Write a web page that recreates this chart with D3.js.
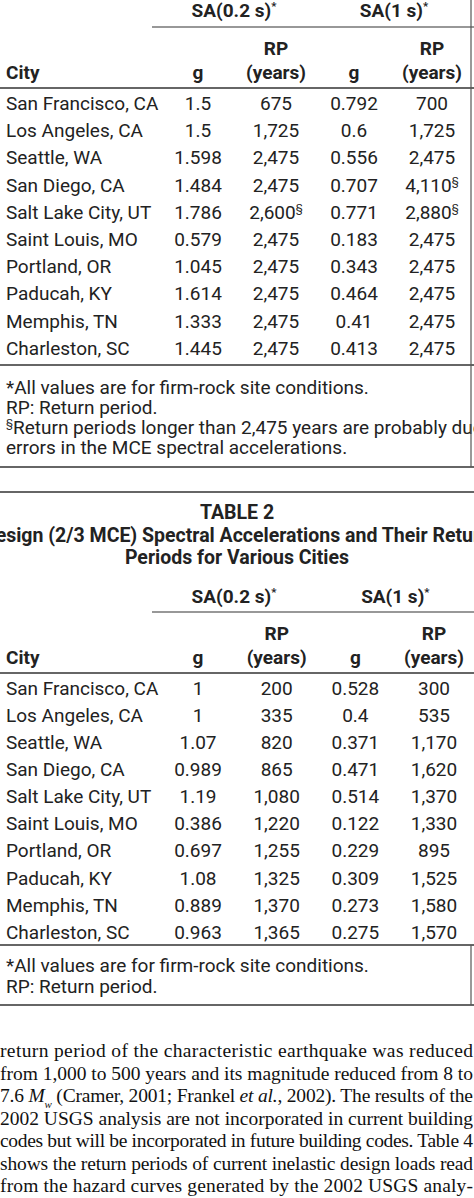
<!DOCTYPE html>
<html><head><meta charset="utf-8">
<script src="https://cdn.jsdelivr.net/npm/d3@7"></script>
<style>body{margin:0;background:#fff}svg{display:block}</style>
</head><body><script>
const cities = ["San Francisco, CA","Los Angeles, CA","Seattle, WA","San Diego, CA","Salt Lake City, UT","Saint Louis, MO","Portland, OR","Paducah, KY","Memphis, TN","Charleston, SC"];
const t1SA02g = ["1.5","1.5","1.598","1.484","1.786","0.579","1.045","1.614","1.333","1.445"];
const t1SA02rp = ["675","1,725","2,475","2,475","2,600§","2,475","2,475","2,475","2,475","2,475"];
const t1SA1g = ["0.792","0.6","0.556","0.707","0.771","0.183","0.343","0.464","0.41","0.413"];
const t1SA1rp = ["700","1,725","2,475","4,110§","2,880§","2,475","2,475","2,475","2,475","2,475"];
const t2SA02g = ["1","1","1.07","0.989","1.19","0.386","0.697","1.08","0.889","0.963"];
const t2SA02rp = ["200","335","820","865","1,080","1,220","1,255","1,325","1,370","1,365"];
const t2SA1g = ["0.528","0.4","0.371","0.471","0.514","0.122","0.229","0.309","0.273","0.275"];
const t2SA1rp = ["300","535","1,170","1,620","1,370","1,330","895","1,525","1,580","1,570"];
const columns = ["g02","rp02","g1","rp1"];
const t1Notes = ["*All values are for firm-rock site conditions.","RP: Return period.","§Return periods longer than 2,475 years are probably due to","errors in the MCE spectral accelerations."];
const t2Notes = ["*All values are for firm-rock site conditions.","RP: Return period."];
const t2Title = ["TABLE 2","Design (2/3 MCE) Spectral Accelerations and Their Return","Periods for Various Cities"];
const paragraph = ["return period of the characteristic earthquake was reduced","from 1,000 to 500 years and its magnitude reduced from 8 to","7.6 M_w (Cramer, 2001; Frankel et al., 2002). The results of the","2002 USGS analysis are not incorporated in current building","codes but will be incorporated in future building codes. Table 4","shows the return periods of current inelastic design loads read","from the hazard curves generated by the 2002 USGS analy-"];

const W=474,H=1198;
const svg=d3.select("body").append("svg").attr("width",W).attr("height",H);
const FN="Roboto,'Liberation Sans',sans-serif";
const ink="#222";
const x=d3.scalePoint().domain(columns).range([198,432]);
const x2=d3.scalePoint().domain(columns).range([198,434]);

function line(y,x1,x2,w){svg.append("line").attr("x1",x1).attr("x2",x2).attr("y1",y).attr("y2",y).attr("stroke","#333").attr("stroke-width",w||1.6);}
function txt(t,xx,yy,o){o=o||{};const fs=o.fs||19;const el=svg.append("text").attr("x",xx).attr("y",yy).attr("dy","0.36em")
  .attr("font-family",FN).attr("font-size",fs).attr("fill",ink).attr("text-anchor",o.anchor||"start").attr("font-weight",o.fw||"normal");
  if(o.tl) el.attr("textLength",o.tl).attr("lengthAdjust","spacingAndGlyphs");
  const parts=t.split(/([§*])/);
  parts.forEach(p=>{if(!p)return; if(p==="§"||(p==="*"&&o.supStar)){el.append("tspan").attr("font-size",fs*0.6).attr("baseline-shift","super").text(p);} else el.append("tspan").text(p);});
  return el;}

function table(o){
  const xs=o.xs;
  txt("SA(0.2 s)*",xs("g02")+36,o.hdr,{fw:"bold",anchor:"middle",supStar:true});
  txt("SA(1 s)*",xs("g1")+40,o.hdr,{fw:"bold",anchor:"middle",supStar:true});
  line(o.under,152,474,1.2);
  txt("RP",xs("rp02"),o.rp,{fw:"bold",anchor:"middle"});
  txt("RP",xs("rp1"),o.rp,{fw:"bold",anchor:"middle"});
  txt("City",6,o.city,{fw:"bold"});
  ["g02","g1"].forEach(c=>txt("g",xs(c),o.city,{fw:"bold",anchor:"middle"}));
  ["rp02","rp1"].forEach(c=>txt("(years)",xs(c),o.city,{fw:"bold",anchor:"middle"}));
  line(o.hline,0,474,1.6);
  const y=d3.scaleBand().domain(cities).range([o.r0,o.r0+o.span]);
  const data={g02:o.d[0],rp02:o.d[1],g1:o.d[2],rp1:o.d[3]};
  cities.forEach((c,i)=>{
    const yy=y(c)+y.bandwidth()/2;
    txt(c,6,yy);
    columns.forEach(k=>txt(data[k][i],xs(k),yy,{anchor:"middle"}));
  });
  line(o.rline,0,474,1.6);
  o.notes.forEach((n,i)=>txt(n,6,o.n0+i*o.nstep,{fs:19}));
  line(o.bottom,0,474,1.6);
}
table({xs:x,hdr:10,under:27,rp:48,city:72,hline:88,r0:89.5,span:272,rline:365,d:[t1SA02g,t1SA02rp,t1SA1g,t1SA1rp],notes:t1Notes,n0:387,nstep:20,bottom:467});
svg.append("line").attr("x1",471).attr("x2",471).attr("y1",0).attr("y2",467).attr("stroke","#555").attr("stroke-width",1.2);
line(492,0,474,1.6);
t2Title.forEach((t,i)=>txt(t,237,512+i*22.5,{fw:"bold",anchor:"middle",fs:19.5}));
table({xs:x2,hdr:596,under:612,rp:633,city:657,hline:673,r0:674.5,span:271,rline:945,d:[t2SA02g,t2SA02rp,t2SA1g,t2SA1rp],notes:t2Notes,n0:965,nstep:21,bottom:1005});
svg.append("line").attr("x1",471).attr("x2",471).attr("y1",945).attr("y2",1005).attr("stroke","#555").attr("stroke-width",1.2);

paragraph.forEach((p,i)=>{
  const el=svg.append("text").attr("x",0).attr("y",1050+i*22.5).attr("dy","0.36em")
    .attr("font-family","'Liberation Serif','DejaVu Serif',serif").attr("font-size",19.5).attr("fill","#111")
    .attr("textLength",473).attr("lengthAdjust","spacing");
  if(p.includes("M_w")){const [a,b]=p.split("M_w");el.append("tspan").text(a);el.append("tspan").attr("font-style","italic").text("M");el.append("tspan").attr("font-size",11).attr("font-style","italic").attr("baseline-shift","sub").text("w");
    const [c,d]=b.split("et al.");el.append("tspan").text(c);el.append("tspan").attr("font-style","italic").text("et al.");el.append("tspan").text(d);}
  else el.text(p);
});
</script></body></html>
